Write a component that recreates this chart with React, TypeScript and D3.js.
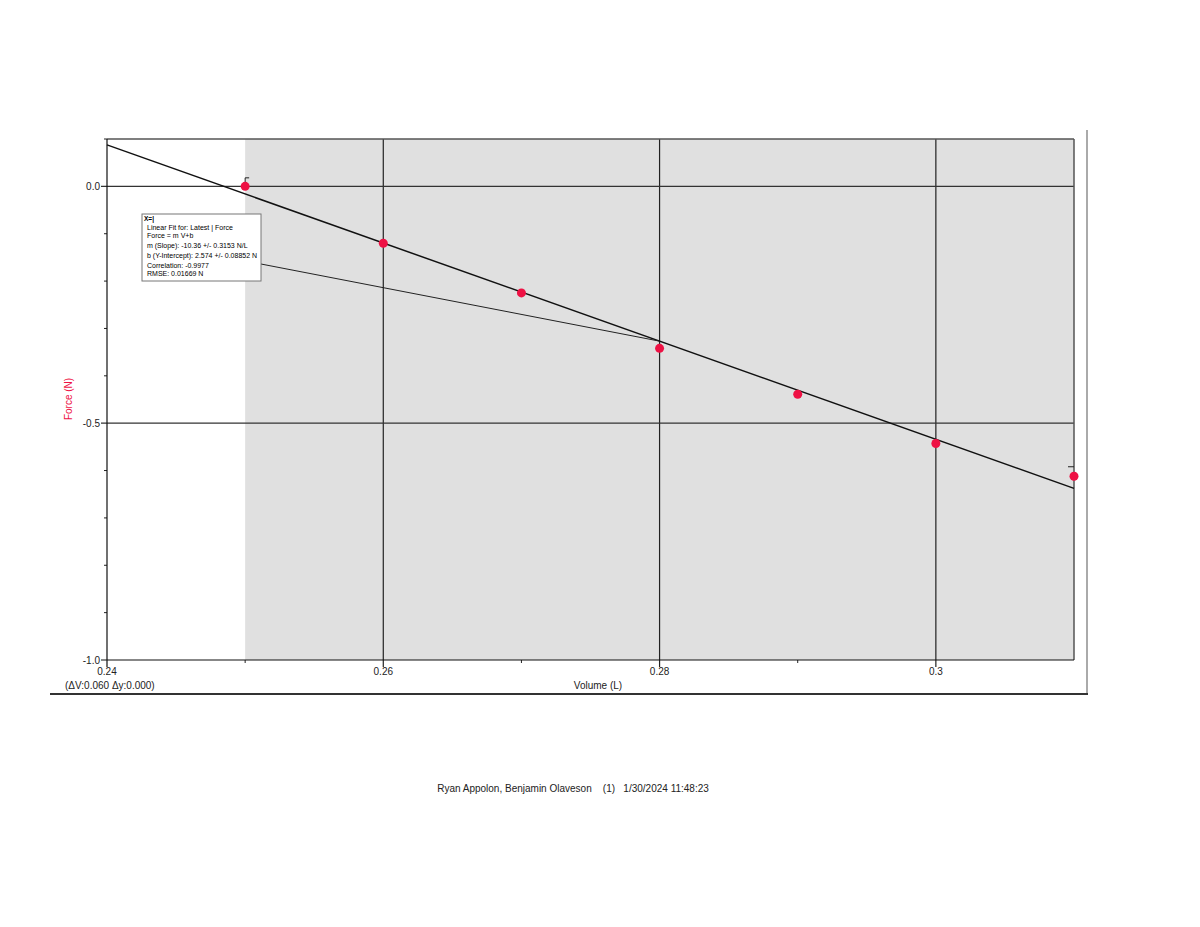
import React from "react";
import * as d3 from "d3";

const volumes = [0.25, 0.26, 0.27, 0.28, 0.29, 0.3, 0.31];
const forces = [0.0, -0.12, -0.225, -0.342, -0.439, -0.543, -0.612];
const fitSlope = -10.36;
const fitIntercept = 2.574;
const xMajorTicks = [0.24, 0.26, 0.28, 0.3];
const xTickLabels = ["0.24", "0.26", "0.28", "0.3"];
const xMinorTicks = [0.25, 0.27, 0.29];
const yMajorTicks = [0.0, -0.5, -1.0];
const yTickLabels = ["0.0", "-0.5", "-1.0"];
const yMinorTicks = [0.1, -0.1, -0.2, -0.3, -0.4, -0.6, -0.7, -0.8, -0.9];
const selection = [0.25, 0.31];
const boxLines = [
  "Linear Fit for: Latest | Force",
  "Force = m V+b",
  "m (Slope): -10.36 +/- 0.3153 N/L",
  "b (Y-Intercept): 2.574 +/- 0.08852 N",
  "Correlation: -0.9977",
  "RMSE: 0.01669 N",
];
const footer = "Ryan Appolon, Benjamin Olaveson    (1)   1/30/2024 11:48:23";

export default function App() {
  const L = 107, R = 1074, T = 139, B = 660;
  const x = d3.scaleLinear().domain([0.24, 0.31]).range([L, R]);
  const y = d3.scaleLinear().domain([-1.0, 0.1]).range([B, T]);
  const font = "'Liberation Sans', Arial, sans-serif";
  const red = "#ee1144";
  const fitY = (v: number) => fitSlope * v + fitIntercept;
  const fitLine = d3.line<number>().x((v) => x(v)).y((v) => y(fitY(v)));
  const bx = 142, by = 214, bw = 119, bh = 67;
  const lineYs = [229.5, 238, 247.5, 258, 267.5, 276];
  return (
    <svg width={1200} height={927} style={{ position: "absolute", left: 0, top: 0, background: "#fff" }} fontFamily={font}>
      <rect x={x(selection[0])} y={T} width={x(selection[1]) - x(selection[0])} height={B - T} fill="#e0e0e0" />
      {xMajorTicks.slice(1).map((t) => (
        <line key={"vx" + t} x1={x(t)} x2={x(t)} y1={T} y2={B + 7} stroke="#222" strokeWidth={1.2} />
      ))}
      {yMajorTicks.slice(0, 2).map((t) => (
        <line key={"hy" + t} x1={L - 6} x2={R} y1={y(t)} y2={y(t)} stroke="#333" strokeWidth={1.2} />
      ))}
      {yMinorTicks.map((t) => (
        <line key={"my" + t} x1={L - 3} x2={L} y1={y(t)} y2={y(t)} stroke="#222" strokeWidth={1} />
      ))}
      {xMinorTicks.map((t) => (
        <line key={"mx" + t} x1={x(t)} x2={x(t)} y1={B} y2={B + 3} stroke="#222" strokeWidth={1} />
      ))}
      <line x1={L} x2={R} y1={T} y2={T} stroke="#555" strokeWidth={1.5} />
      <line x1={R} x2={R} y1={T} y2={B} stroke="#555" strokeWidth={1.5} />
      <line x1={L - 6} x2={R} y1={B} y2={B} stroke="#111" strokeWidth={1.2} />
      <line x1={L} x2={L} y1={T} y2={B + 7} stroke="#111" strokeWidth={1.2} />
      {yMajorTicks.map((t, i) => (
        <text key={"yl" + t} x={L - 7} y={y(t) + 3.5} fontSize={10} textAnchor="end" fill="#222">{yTickLabels[i]}</text>
      ))}
      {xMajorTicks.map((t, i) => (
        <text key={"xl" + t} x={x(t)} y={B + 15} fontSize={10} textAnchor="middle" fill="#222">{xTickLabels[i]}</text>
      ))}
      <text x={598} y={689} fontSize={10} textAnchor="middle" fill="#222">Volume (L)</text>
      <text x={65} y={689} fontSize={10} fill="#222">(ΔV:0.060 Δy:0.000)</text>
      <text transform="translate(72,399) rotate(-90)" fontSize={10} textAnchor="middle" fill={red}>Force (N)</text>
      <path d={fitLine([0.24, 0.31]) || ""} fill="none" stroke="#111" strokeWidth={1.5} />
      <path d={`M${x(selection[0])},${y(0)}V${y(0.018)}H${x(selection[0]) + 4}`} fill="none" stroke="#222" strokeWidth={1} />
      <path d={`M${x(selection[1]) - 6},${y(-0.592)}H${x(selection[1])}`} fill="none" stroke="#222" strokeWidth={1} />
      {volumes.map((v, i) => (
        <circle key={"p" + v} cx={x(v)} cy={y(forces[i])} r={4.5} fill={red} />
      ))}
      <line x1={bx + bw} x2={x(0.28)} y1={264} y2={y(fitY(0.28))} stroke="#222" strokeWidth={1} />
      <rect x={bx} y={by} width={bw} height={bh} fill="#fff" stroke="#777" strokeWidth={1} />
      <text x={bx + 2} y={by + 7} fontSize={6.5} fontWeight="bold" fill="#000">X=|</text>
      {boxLines.map((s, i) => (
        <text key={"b" + i} x={bx + 5} y={lineYs[i]} fontSize={7} fill="#000">{s}</text>
      ))}
      <line x1={1087} x2={1087} y1={130} y2={694} stroke="#aaa" strokeWidth={2} />
      <line x1={50} x2={1088} y1={694} y2={694} stroke="#333" strokeWidth={2} />
      <text x={573} y={792} fontSize={10} textAnchor="middle" fill="#222" style={{ whiteSpace: "pre" }}>{footer}</text>
    </svg>
  );
}
